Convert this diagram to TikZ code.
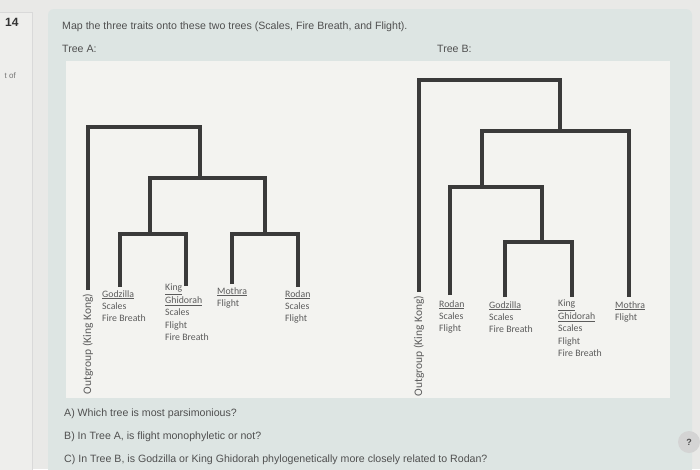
\documentclass[tikz,border=0pt]{standalone}
\usepackage{fontspec}
\setmainfont{Liberation Sans}
\newfontfamily\leaffont{Carlito}
\usetikzlibrary{positioning}
\definecolor{pagegrey}{RGB}{233,233,231}
\definecolor{boxgrey}{RGB}{238,238,236}
\definecolor{panelgreen}{RGB}{221,229,227}
\definecolor{figwhite}{RGB}{243,243,240}
\definecolor{branchgrey}{RGB}{58,58,58}
\definecolor{labelgrey}{RGB}{92,92,92}
\definecolor{textgrey}{RGB}{80,80,80}

\begin{document}
\begin{tikzpicture}[
  x=1pt, y=-1pt,
  branch/.style={draw=branchgrey, line width=3.6pt, line join=miter},
  leaf/.style={anchor=north west, align=left, inner sep=0pt, text=labelgrey, font=\leaffont\fontsize{9.8}{12.4}\selectfont},
  outgroup/.style={rotate=90, inner sep=0pt, text=labelgrey, font=\leaffont\fontsize{11.5}{13}\selectfont},
  qtext/.style={anchor=west, inner sep=0pt, text=textgrey, font=\fontsize{10.6}{12}\selectfont}
]
  \useasboundingbox (0,0) rectangle (700,469);
  % page, question box and figure area
  \fill[pagegrey] (0,0) rectangle (700,469);
  \filldraw[fill=boxgrey, draw=black!15] (-2,12) rectangle (32,472);
  \fill[panelgreen, rounded corners=6pt] (48,9) rectangle (692,475);
  \fill[figwhite] (66,61) rectangle (670,398);

  \node[anchor=west, inner sep=0pt, text=black!80, font=\bfseries\fontsize{12}{14}\selectfont] (qnum) at (5,22) {14};
  \node[anchor=east, inner sep=0pt, text=black!55, font=\fontsize{8}{10}\selectfont] (qside) at (16,76) {t of};

  \node[qtext] (title) at (62,27) {Map the three traits onto these two trees (Scales, Fire Breath, and Flight).};
  \node[qtext] (treeA) at (62,49) {Tree A:};
  \node[qtext] (treeB) at (437,49) {Tree B:};

  % Tree A
  \coordinate (ogA) at (88,290);
  \coordinate (rootA) at (150,127);
  \coordinate (nA1) at (200,178);
  \coordinate (nA2) at (150,234);
  \coordinate (nA3) at (265,234);
  \coordinate (godA) at (120,287);
  \coordinate (kgA) at (186,286);
  \coordinate (moA) at (232,284);
  \coordinate (roA) at (298,287);
  \draw[branch] (ogA) |- (rootA) -| (nA1);
  \draw[branch] (nA2) |- (nA1) -| (nA3);
  \draw[branch] (godA) |- (nA2) -| (kgA);
  \draw[branch] (moA) |- (nA3) -| (roA);

  \node[outgroup] (ogAlabel) at (88,344) {Outgroup (King Kong)};
  \node[leaf] (godAlabel) at (102,290) {\underline{Godzilla}\\Scales\\Fire Breath};
  \node[leaf] (kgAlabel) at (165,284) {\underline{King}\\\underline{Ghidorah}\\Scales\\Flight\\Fire Breath};
  \node[leaf] (moAlabel) at (217,287) {\underline{Mothra}\\Flight};
  \node[leaf] (roAlabel) at (285,290) {\underline{Rodan}\\Scales\\Flight};

  % Tree B
  \coordinate (ogB) at (419,292);
  \coordinate (rootB) at (500,80);
  \coordinate (nB1) at (560,131);
  \coordinate (nB2) at (482,187);
  \coordinate (nB3) at (542,242);
  \coordinate (roB) at (450,295);
  \coordinate (godB) at (505,297);
  \coordinate (kgB) at (572,297);
  \coordinate (moB) at (629,297);
  \draw[branch] (ogB) |- (rootB) -| (nB1);
  \draw[branch] (nB2) |- (nB1) -| (moB);
  \draw[branch] (roB) |- (nB2) -| (nB3);
  \draw[branch] (godB) |- (nB3) -| (kgB);

  \node[outgroup] (ogBlabel) at (419,346) {Outgroup (King Kong)};
  \node[leaf] (roBlabel) at (439,300) {\underline{Rodan}\\Scales\\Flight};
  \node[leaf] (godBlabel) at (489,301) {\underline{Godzilla}\\Scales\\Fire Breath};
  \node[leaf] (kgBlabel) at (558,300) {\underline{King}\\\underline{Ghidorah}\\Scales\\Flight\\Fire Breath};
  \node[leaf] (moBlabel) at (615,301) {\underline{Mothra}\\Flight};

  % questions
  \node[qtext] (qa) at (64,414) {A) Which tree is most parsimonious?};
  \node[qtext] (qb) at (64,437) {B) In Tree A, is flight monophyletic or not?};
  \node[qtext] (qc) at (64,460) {C) In Tree B, is Godzilla or King Ghidorah phylogenetically more closely related to Rodan?};

  \node[circle, fill=black!17, minimum size=22pt, inner sep=0pt, text=black!70, font=\bfseries\fontsize{9}{10}\selectfont] (help) at (689,442) {?};
\end{tikzpicture}
\end{document}
